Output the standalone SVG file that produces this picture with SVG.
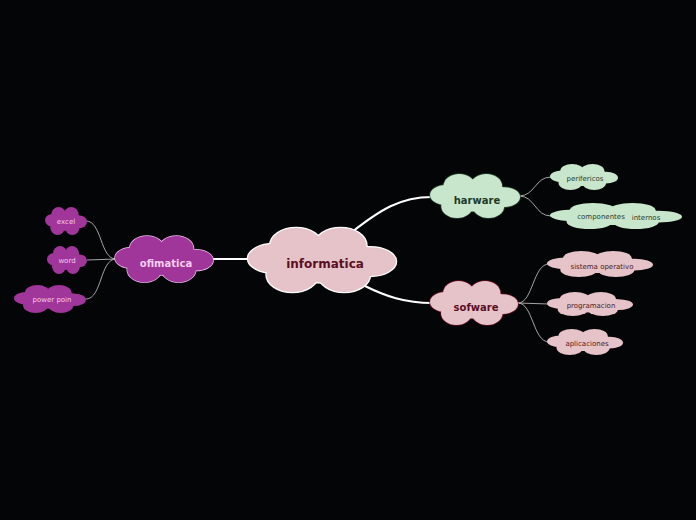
<svg xmlns="http://www.w3.org/2000/svg" width="696" height="520" viewBox="0 0 696 520">
<style>
text{font-family:"DejaVu Sans",sans-serif;text-anchor:middle;dominant-baseline:central}
.main{stroke:#fff;stroke-width:2;fill:none}
.sub{stroke:#ccc;stroke-width:0.8;fill:none}
</style>
<defs>
<g id="cl">
<ellipse cx="0" cy="0" rx="0.75" ry="0.7"/>
<ellipse cx="-0.35" cy="-0.45" rx="0.35" ry="0.55"/>
<ellipse cx="0.25" cy="-0.45" rx="0.35" ry="0.55"/>
<ellipse cx="-0.65" cy="-0.05" rx="0.35" ry="0.45"/>
<ellipse cx="0.65" cy="0.05" rx="0.35" ry="0.45"/>
<ellipse cx="-0.4" cy="0.45" rx="0.35" ry="0.55"/>
<ellipse cx="0.3" cy="0.45" rx="0.35" ry="0.55"/>
</g>
<g id="ci">
<ellipse cx="322" cy="260" rx="55.5" ry="22.4"/>
<ellipse cx="296.1" cy="245.6" rx="25.9" ry="17.6"/>
<ellipse cx="340.5" cy="245.6" rx="25.9" ry="17.6"/>
<ellipse cx="273.9" cy="258.4" rx="25.9" ry="14.4"/>
<ellipse cx="370.1" cy="261.6" rx="25.9" ry="14.4"/>
<ellipse cx="292.4" cy="274.4" rx="25.9" ry="17.6"/>
<ellipse cx="344.2" cy="274.4" rx="25.9" ry="17.6"/>
</g>
<g id="co">
<ellipse cx="164" cy="259" rx="36.75" ry="16.1"/>
<ellipse cx="146.9" cy="248.7" rx="17.2" ry="12.7"/>
<ellipse cx="176.3" cy="248.7" rx="17.2" ry="12.7"/>
<ellipse cx="132.2" cy="257.9" rx="17.2" ry="10.4"/>
<ellipse cx="195.9" cy="260.2" rx="17.2" ry="10.4"/>
<ellipse cx="144.4" cy="269.4" rx="17.2" ry="12.7"/>
<ellipse cx="178.7" cy="269.4" rx="17.2" ry="12.7"/>
</g>
<g id="ch">
<ellipse cx="475" cy="196" rx="33.75" ry="15.4"/>
<ellipse cx="459.3" cy="186.1" rx="15.75" ry="12.1"/>
<ellipse cx="486.3" cy="186.1" rx="15.75" ry="12.1"/>
<ellipse cx="445.8" cy="194.9" rx="15.75" ry="9.9"/>
<ellipse cx="504.3" cy="197.1" rx="15.75" ry="9.9"/>
<ellipse cx="457" cy="205.9" rx="15.75" ry="12.1"/>
<ellipse cx="488.5" cy="205.9" rx="15.75" ry="12.1"/>
</g>
<g id="cs">
<ellipse cx="474" cy="303" rx="33" ry="15.4"/>
<ellipse cx="458.6" cy="293.1" rx="15.4" ry="12.1"/>
<ellipse cx="485" cy="293.1" rx="15.4" ry="12.1"/>
<ellipse cx="445.4" cy="301.9" rx="15.4" ry="9.9"/>
<ellipse cx="502.6" cy="304.1" rx="15.4" ry="9.9"/>
<ellipse cx="456.4" cy="312.9" rx="15.4" ry="12.1"/>
<ellipse cx="487.2" cy="312.9" rx="15.4" ry="12.1"/>
</g>
</defs>
<rect width="696" height="520" fill="#040507"/>
<g id="connectors">
<path class="main" d="M352,232 C380,210 400,197 432,197"/>
<path class="main" d="M365,286 C385,296 405,303 432,303"/>
<path class="main" d="M212,259 L252,259"/>
<path class="sub" d="M519,196 C535,196 535,177 551,177 M519,196 C535,196 535,216 551,216"/>
<path class="sub" d="M518,303 C533,303 533,264 549,264 M518,303 L549,304 M518,303 C533,303 533,342 549,342"/>
<path class="sub" d="M116,259 C100,259 102,221 86,221 M116,259 L87,260 M116,259 C100,259 102,299 86,299"/>
</g>
<g id="informatica"><use href="#ci" stroke="#fff" stroke-width="2.5" fill="#e6c3c8"/><use href="#ci" fill="#e6c3c8"/><text x="325" y="264" font-size="12" font-weight="bold" fill="#5a0f24">informatica</text></g>
<g id="ofimatica"><use href="#co" stroke="#f0c0f0" stroke-width="1.5" fill="#a0359a"/><use href="#co" fill="#a0359a"/><text x="166" y="263" font-size="10" font-weight="bold" fill="#f6cdf0">ofimatica</text></g>
<g id="excel"><use href="#cl" transform="translate(66,221) scale(21,14)" fill="#a0359a"/><text x="66" y="222" font-size="7" fill="#f6cdf0">excel</text></g>
<g id="word"><use href="#cl" transform="translate(67,260) scale(20,14)" fill="#a0359a"/><text x="67" y="261" font-size="7" fill="#f6cdf0">word</text></g>
<g id="powerpoin"><use href="#cl" transform="translate(50,299) scale(36,14)" fill="#a0359a"/><text x="52" y="300" font-size="7" fill="#f6cdf0">power poin</text></g>
<g id="harware"><use href="#ch" stroke="#2a4a30" stroke-width="1.5" fill="#c8e6cc"/><use href="#ch" fill="#c8e6cc"/><text x="477" y="200" font-size="10" font-weight="bold" fill="#1e3a24">harware</text></g>
<g id="perifericos"><use href="#cl" transform="translate(584,177) scale(34,13)" fill="#c8e6cc"/><text x="585" y="179" font-size="7" fill="#2a3a2c">perifericos</text></g>
<g id="componentes"><use href="#cl" transform="translate(616,216) scale(66,13)" fill="#c8e6cc"/><text x="601" y="217" font-size="7" fill="#2a3a2c">componentes</text><text x="646" y="218" font-size="7" fill="#2a3a2c">internos</text></g>
<g id="sofware"><use href="#cs" stroke="#6a0f24" stroke-width="1.5" fill="#e6c3c8"/><use href="#cs" fill="#e6c3c8"/><text x="476" y="307" font-size="10" font-weight="bold" fill="#5a0f24">sofware</text></g>
<g id="sistema"><use href="#cl" transform="translate(600,264) scale(53,13)" fill="#e6c3c8"/><text x="602" y="267" font-size="7" fill="#4a1a24">sistema operativo</text></g>
<g id="programacion"><use href="#cl" transform="translate(590,304) scale(43,12)" fill="#e6c3c8"/><text x="591" y="306" font-size="7" fill="#4a1a24">programacion</text></g>
<g id="aplicaciones"><use href="#cl" transform="translate(585,342) scale(38,13)" fill="#e6c3c8"/><text x="587" y="344" font-size="7" fill="#4a1a24">aplicaciones</text></g>
</svg>
